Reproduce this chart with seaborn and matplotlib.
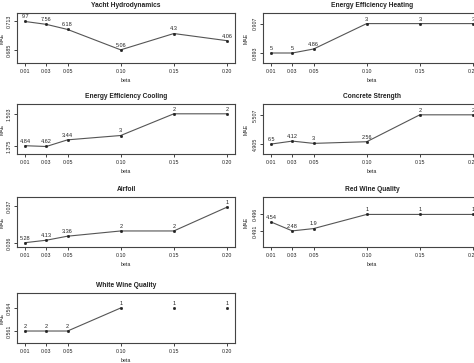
import matplotlib
matplotlib.use("Agg")
import matplotlib.pyplot as plt
import seaborn as sns
import pandas as pd

# beta grid shared by every panel
beta = [0.01, 0.03, 0.05, 0.10, 0.15, 0.20]
beta_labels = ["0.01", "0.03", "0.05", "0.10", "0.15", "0.20"]

# MAE per beta
yacht_mae = [0.7128, 0.7100, 0.7050, 0.6850, 0.7010, 0.6940]
yacht_lbl = ["9.7", "7.56", "6.18", "5.06", "4.3", "4.06"]
yacht_ticks = [0.685, 0.713]

heating_mae = [0.893, 0.893, 0.8949, 0.907, 0.907, 0.907]
heating_lbl = ["5", "5", "4.86", "3", "3", "3"]
heating_ticks = [0.893, 0.907]

cooling_mae = [1.378, 1.375, 1.401, 1.418, 1.503, 1.503]
cooling_lbl = ["4.84", "4.62", "3.44", "3", "2", "2"]
cooling_ticks = [1.375, 1.503]

concrete_mae = [4.905, 4.966, 4.919, 4.953, 5.507, 5.507]
concrete_lbl = ["6.5", "4.12", "3", "2.56", "2", "2"]
concrete_ticks = [4.905, 5.507]

airfoil_mae = [0.036017, 0.036083, 0.036192, 0.036333, 0.036333, 0.036975]
airfoil_lbl = ["5.28", "4.13", "3.36", "2", "2", "1"]
airfoil_ticks = [0.036, 0.037]

redwine_mae = [0.4937, 0.4910, 0.4917, 0.4960, 0.4960, 0.4960]
redwine_lbl = ["4.54", "2.48", "1.9", "1", "1", "1"]
redwine_ticks = [0.491, 0.496]

whitewine_mae = [0.561, 0.561, 0.561, 0.564, 0.564, 0.564]
whitewine_lbl = ["2", "2", "2", "1", "1", "1"]
whitewine_ticks = [0.561, 0.564]

# title, values, labels, y ticks, points joined by the line, (pad below, pad above)
panels = [
    ("Yacht Hydrodynamics", yacht_mae, yacht_lbl, yacht_ticks, 6, (0.46, 0.29)),
    ("Energy Efficiency Heating", heating_mae, heating_lbl, heating_ticks, 6, (0.34, 0.36)),
    ("Energy Efficiency Cooling", cooling_mae, cooling_lbl, cooling_ticks, 6, (0.23, 0.30)),
    ("Concrete Strength", concrete_mae, concrete_lbl, concrete_ticks, 6, (0.34, 0.37)),
    ("Airfoil", airfoil_mae, airfoil_lbl, airfoil_ticks, 6, (0.10, 0.25)),
    ("Red Wine Quality", redwine_mae, redwine_lbl, redwine_ticks, 6, (0.98, 1.06)),
    ("White Wine Quality", whitewine_mae, whitewine_lbl, whitewine_ticks, 4, (0.52, 0.65)),
]

W, H = 474, 363
sns.set_style("white")
plt.rcParams["font.family"] = ["Liberation Sans", "DejaVu Sans"]

fig = plt.figure(figsize=(W / 100, H / 100), dpi=100)

col_left = [17, 263]
row_top = [13, 104, 197, 293]
ax_w, ax_h = 218, 50

ink = "#222222"
for i, (title, mae, lbl, yt, n_join, (pad_lo, pad_hi)) in enumerate(panels):
    r, c = divmod(i, 2)
    x0, y0 = col_left[c], row_top[r]
    ax = fig.add_axes([x0 / W, 1 - (y0 + ax_h) / H, ax_w / W, ax_h / H])

    df = pd.DataFrame({"beta": beta, "mae": mae})
    sns.lineplot(data=df.iloc[:n_join], x="beta", y="mae", ax=ax,
                 color="#555555", linewidth=0.8)
    sns.scatterplot(data=df, x="beta", y="mae", ax=ax, color=ink,
                    s=4, edgecolor=None, zorder=3)
    for b, m, t in zip(beta, mae, lbl):
        ax.annotate(t, (b, m), xytext=(0, 1.5), textcoords="offset points",
                    ha="center", va="bottom", fontsize=4.0, color=ink)

    span = yt[1] - yt[0]
    ax.set_xlim(0.0024, 0.2076)
    ax.set_ylim(yt[0] - pad_lo * span, yt[1] + pad_hi * span)
    ax.set_xticks(beta)
    ax.set_xticklabels(beta_labels)
    ax.set_yticks(yt)
    ax.set_yticklabels([f"{v:.3f}" for v in yt], rotation=90, va="center")
    ax.tick_params(axis="both", direction="out", length=2.5, width=0.6,
                   pad=1.5, labelsize=3.8, colors=ink, bottom=True, left=True)
    ax.set_title(title, fontsize=4.8, fontweight="bold", color=ink, pad=4)
    ax.set_xlabel("beta", fontsize=3.8, color=ink, labelpad=3)
    ax.set_ylabel("MAE", fontsize=3.8, color=ink, labelpad=1.5 if c == 0 else 3)
    for s in ax.spines.values():
        s.set_color("#444444")
        s.set_linewidth(0.8)

fig.savefig("out.png", dpi=100)
